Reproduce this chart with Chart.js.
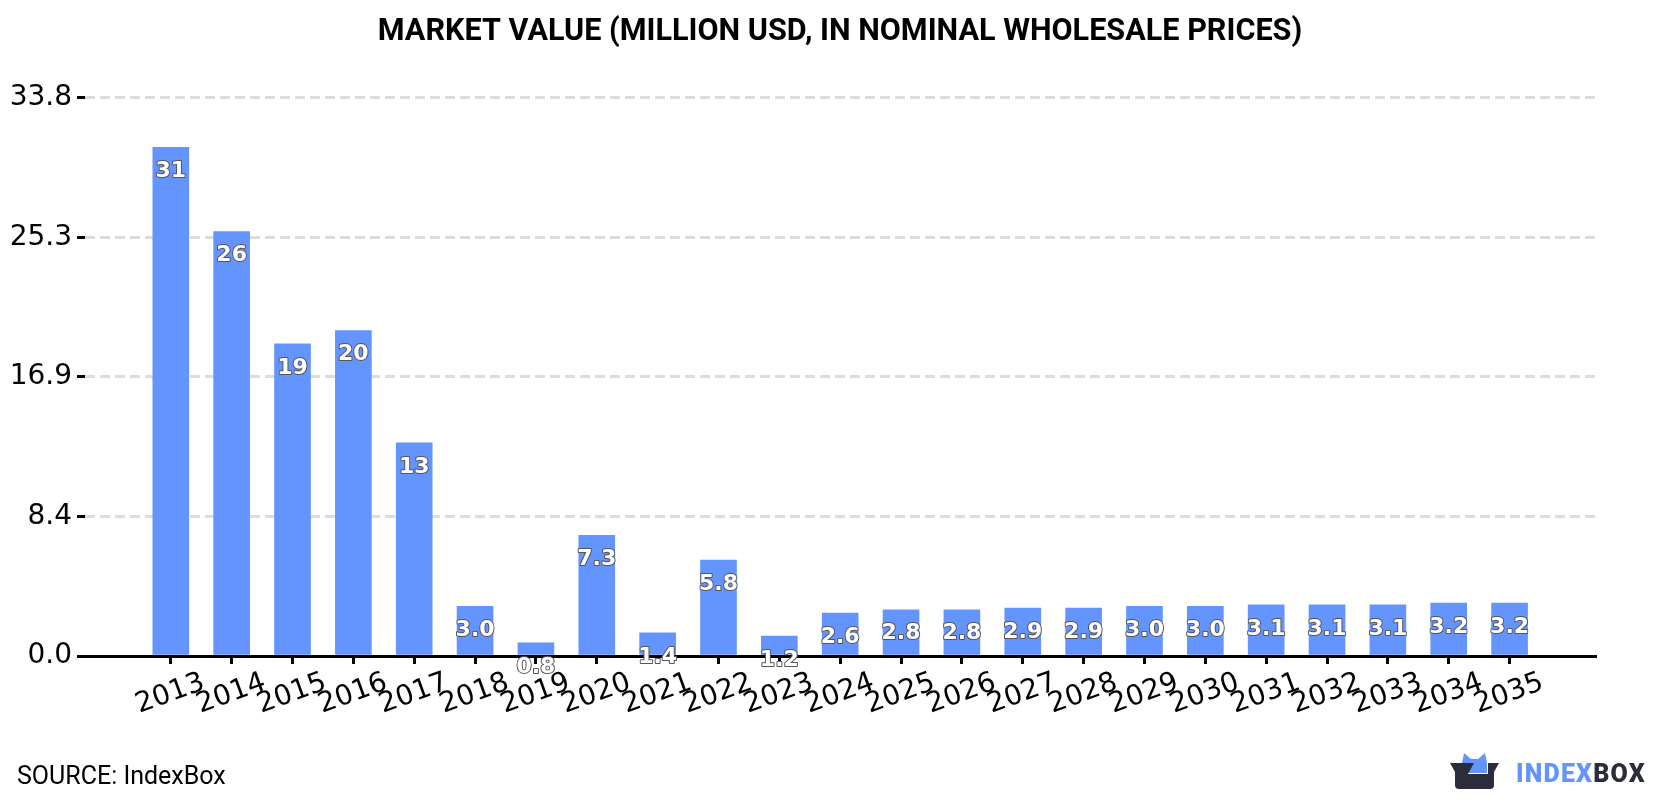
<!DOCTYPE html>
<html>
<head>
<meta charset="utf-8">
<title>Market Value</title>
<script src="https://cdn.jsdelivr.net/npm/chart.js@4"></script>
<style>
    html, body { margin: 0; padding: 0; background: #fff; }
    #wrap { position: relative; width: 1680px; height: 800px; overflow: hidden; }
    #source { position: absolute; left: 17px; top: 761px; font: 25px Roboto, sans-serif; color: #000; }
    #logo { position: absolute; left: 1440px; top: 745px; }
</style>
</head>
<body>
<div id="wrap">
    <canvas id="chart" width="1680" height="800"></canvas>
    <div id="source">SOURCE: IndexBox</div>
    <svg id="logo" width="230" height="50" viewBox="0 0 230 50">
        <path d="M22 18 L24 8 L31 14 L38 14 L45 8 L47 18 L47 28 L22 28 Z" fill="#6495ff"/>
        <path d="M10 18 L34 18 L28 29 L48 29 L48 18 L59 18 L54 27 L54 40 Q54 44 50 44 L19 44 Q15 44 15 40 L15 27 Z" fill="#2b2d3a"/>
        <text x="76" y="37" font-family="Roboto, sans-serif" font-weight="900" font-size="25" letter-spacing="1.2"><tspan fill="#6495ff">INDEX</tspan><tspan fill="#2b2d3a">BOX</tspan></text>
    </svg>
</div>
<script>
const years = [2013, 2014, 2015, 2016, 2017, 2018, 2019, 2020, 2021, 2022, 2023, 2024,
    2025, 2026, 2027, 2028, 2029, 2030, 2031, 2032, 2033, 2034, 2035];
const marketValues = [30.8, 25.7, 18.9, 19.7, 12.9, 3.0, 0.8, 7.3, 1.4, 5.8, 1.2, 2.6,
    2.8, 2.8, 2.9, 2.9, 3.0, 3.0, 3.1, 3.1, 3.1, 3.2, 3.2];
const yTicks = [0, 8.45, 16.9, 25.35, 33.8];
const yTickLabels = ['0.0', '8.4', '16.9', '25.3', '33.8'];

// big values lose the decimal
function formatValue(v) {
    return v >= 10 ? String(Math.round(v)) : v.toFixed(1);
}

// outlined value labels sitting just under the top of each bar
const barLabels = {
    id: 'barLabels',
    afterDraw(chart) {
        const ctx = chart.ctx;
        const bars = chart.getDatasetMeta(0).data;
        ctx.save();
        ctx.font = 'bold 22px "DejaVu Sans"';
        ctx.textAlign = 'center';
        ctx.textBaseline = 'middle';
        ctx.lineJoin = 'round';
        bars.forEach((bar, i) => {
            const text = formatValue(marketValues[i]);
            ctx.lineWidth = 2;
            ctx.strokeStyle = '#555';
            ctx.strokeText(text, bar.x, bar.y + 24);
            ctx.fillStyle = '#fff';
            ctx.fillText(text, bar.x, bar.y + 24);
        });
        ctx.restore();
    }
};

// the right padding only applies to the plot, the title stays centred on the page
const centerTitle = {
    id: 'centerTitle',
    afterLayout(chart) {
        chart.titleBlock.right = chart.width;
    }
};

new Chart(document.getElementById('chart'), {
    type: 'bar',
    data: {
        datasets: [{
            data: years.map((year, i) => ({ x: year, y: marketValues[i] })),
            backgroundColor: '#6495ff',
            barThickness: 36
        }]
    },
    plugins: [barLabels, centerTitle],
    options: {
        responsive: false,
        animation: false,
        layout: { padding: { left: 0, right: 84, top: 0, bottom: 0 } },
        plugins: {
            legend: { display: false },
            tooltip: { enabled: false },
            title: {
                display: true,
                text: 'MARKET VALUE (MILLION USD, IN NOMINAL WHOLESALE PRICES)',
                color: '#000',
                font: { family: 'Roboto', size: 30.6, weight: 'bold', lineHeight: 1.2 },
                padding: { top: 14, bottom: 47 }
            }
        },
        scales: {
            x: {
                type: 'linear',
                offset: false,
                min: 2011.59,
                max: 2036.42,
                afterBuildTicks: scale => { scale.ticks = years.map(v => ({ value: v })); },
                afterFit: scale => { scale.height = 144; },
                border: { color: '#000', width: 3 },
                grid: {
                    offset: false,
                    drawOnChartArea: false,
                    tickColor: '#000',
                    tickLength: 8,
                    tickWidth: 3
                },
                ticks: {
                    autoSkip: false,
                    minRotation: 20,
                    maxRotation: 20,
                    labelOffset: 33,
                    padding: 2,
                    color: '#000',
                    font: { family: 'DejaVu Sans', size: 28 },
                    callback: v => String(v)
                }
            },
            y: {
                min: 0,
                max: 33.8,
                afterBuildTicks: scale => { scale.ticks = yTicks.map(v => ({ value: v })); },
                afterFit: scale => { scale.width = 85; },
                border: { display: false, dash: [10, 5] },
                grid: {
                    color: '#dddddd',
                    lineWidth: 3,
                    tickColor: '#000',
                    tickLength: 8,
                    tickWidth: 3,
                    tickBorderDash: []
                },
                ticks: {
                    padding: 5,
                    color: '#000',
                    font: { family: 'DejaVu Sans', size: 28 },
                    callback: (v, i) => yTickLabels[i]
                }
            }
        }
    }
});
</script>
</body>
</html>
